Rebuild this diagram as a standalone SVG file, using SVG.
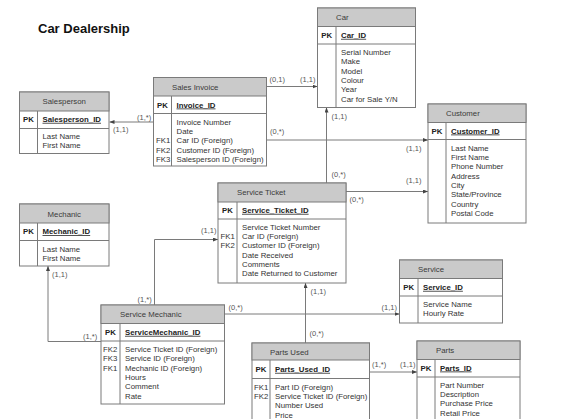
<svg xmlns="http://www.w3.org/2000/svg" width="580" height="419" viewBox="0 0 580 419">
<style>
.box{fill:#fff;stroke:#7a7a7a;stroke-width:1}
.hdr{fill:#cacaca;stroke:#7a7a7a;stroke-width:1}
.ln{stroke:#7a7a7a;stroke-width:1}
text{font-family:"Liberation Sans",Arial,sans-serif;font-size:7.8px;fill:#333}
.h{fill:#3a3a3a}
.pk{font-weight:bold;fill:#222}
.key{font-weight:bold;fill:#222;text-decoration:underline}
.fk{fill:#333}
.lbl{font-size:7.5px;fill:#555}
.title{font-size:13px;font-weight:bold;fill:#111}
.conn{fill:none;stroke:#7a7a7a;stroke-width:1}
</style>
<defs>
<marker id="arr" markerUnits="userSpaceOnUse" markerWidth="5" markerHeight="4" refX="5" refY="2" orient="auto">
<path d="M0,0 L5,2 L0,4 z" fill="#444"/>
</marker>
</defs>
<rect width="580" height="419" fill="#fff"/>
<text class="title" x="38" y="32.5">Car Dealership</text>

<g id="connectors">
<path class="conn" d="M153.5,122 H109.5" marker-end="url(#arr)"/>
<path class="conn" d="M266.5,86.5 H317.5" marker-end="url(#arr)"/>
<path class="conn" d="M266.5,140 H428" marker-end="url(#arr)"/>
<path class="conn" d="M326.5,183 V107.5" marker-end="url(#arr)"/>
<path class="conn" d="M346,191.5 H428" marker-end="url(#arr)"/>
<path class="conn" d="M154.5,305 V239.5 H218" marker-end="url(#arr)"/>
<path class="conn" d="M101,341.5 H48 V266" marker-end="url(#arr)"/>
<path class="conn" d="M224.5,314 H399.5" marker-end="url(#arr)"/>
<path class="conn" d="M305.5,343 V283" marker-end="url(#arr)"/>
<path class="conn" d="M369.5,372 H417" marker-end="url(#arr)"/>
<text class="lbl" x="137" y="119.6">(1,*)</text>
<text class="lbl" x="113" y="132">(1,1)</text>
<text class="lbl" x="269.5" y="81.8">(0,1)</text>
<text class="lbl" x="300" y="81.8">(1,1)</text>
<text class="lbl" x="270" y="133.8">(0,*)</text>
<text class="lbl" x="406" y="151">(1,1)</text>
<text class="lbl" x="331.5" y="118.8">(1,1)</text>
<text class="lbl" x="331.5" y="176.6">(0,*)</text>
<text class="lbl" x="349.5" y="201.6">(0,*)</text>
<text class="lbl" x="406" y="182.8">(1,1)</text>
<text class="lbl" x="201" y="232.8">(1,1)</text>
<text class="lbl" x="137.5" y="301.6">(1,*)</text>
<text class="lbl" x="52" y="276.8">(1,1)</text>
<text class="lbl" x="83" y="339">(1,*)</text>
<text class="lbl" x="228.5" y="309.5">(0,*)</text>
<text class="lbl" x="381.5" y="309.5">(1,1)</text>
<text class="lbl" x="310.5" y="294">(1,1)</text>
<text class="lbl" x="309.5" y="336">(0,*)</text>
<text class="lbl" x="372" y="366.6">(1,*)</text>
<text class="lbl" x="400" y="366.6">(1,1)</text>
</g>

<g id="salesperson">
<rect class="box" x="19.5" y="92" width="89.5" height="61.5"/>
<rect class="hdr" x="19.5" y="92" width="89.5" height="19"/>
<line class="ln" x1="19.5" y1="128.5" x2="109" y2="128.5"/>
<line class="ln" x1="37.5" y1="111" x2="37.5" y2="153.5"/>
<text class="h" x="64.25" y="104.3" text-anchor="middle">Salesperson</text>
<text class="pk" x="28.5" y="121.8" text-anchor="middle">PK</text>
<text class="key" x="42.5" y="121.8">Salesperson_ID</text>
<text x="42.5" y="138.8">Last Name</text>
<text x="42.5" y="148.1">First Name</text>
</g>

<g id="sales-invoice">
<rect class="box" x="153.5" y="77.5" width="113" height="88.5"/>
<rect class="hdr" x="153.5" y="77.5" width="113" height="18.5"/>
<line class="ln" x1="153.5" y1="113.5" x2="266.5" y2="113.5"/>
<line class="ln" x1="171.5" y1="96" x2="171.5" y2="166"/>
<text class="h" x="172" y="89.8">Sales Invoice</text>
<text class="pk" x="162.5" y="107.5" text-anchor="middle">PK</text>
<text class="key" x="176.5" y="107.5">Invoice_ID</text>
<text x="176.5" y="124.8">Invoice Number</text>
<text x="176.5" y="134.1">Date</text>
<text x="176.5" y="143.4">Car ID (Foreign)</text>
<text x="176.5" y="152.7">Customer ID (Foreign)</text>
<text x="176.5" y="162">Salesperson ID (Foreign)</text>
<text class="fk" x="156" y="143.4">FK1</text>
<text class="fk" x="156" y="152.7">FK2</text>
<text class="fk" x="156" y="162">FK3</text>
</g>

<g id="car">
<rect class="box" x="317.5" y="8" width="98" height="99.5"/>
<rect class="hdr" x="317.5" y="8" width="98" height="18.5"/>
<line class="ln" x1="317.5" y1="44" x2="415.5" y2="44"/>
<line class="ln" x1="336" y1="26.5" x2="336" y2="107.5"/>
<text class="h" x="336" y="20.1">Car</text>
<text class="pk" x="326.75" y="37.8" text-anchor="middle">PK</text>
<text class="key" x="341" y="37.8">Car_ID</text>
<text x="341" y="55.1">Serial Number</text>
<text x="341" y="64.4">Make</text>
<text x="341" y="73.7">Model</text>
<text x="341" y="83">Colour</text>
<text x="341" y="92.3">Year</text>
<text x="341" y="101.6">Car for Sale Y/N</text>
</g>

<g id="customer">
<rect class="box" x="428" y="104" width="98" height="119"/>
<rect class="hdr" x="428" y="104" width="98" height="18.5"/>
<line class="ln" x1="428" y1="139.5" x2="526" y2="139.5"/>
<line class="ln" x1="446" y1="122.5" x2="446" y2="223"/>
<text class="h" x="446" y="116.1">Customer</text>
<text class="pk" x="437" y="133.5" text-anchor="middle">PK</text>
<text class="key" x="451" y="133.5">Customer_ID</text>
<text x="451" y="150.8">Last Name</text>
<text x="451" y="160.1">First Name</text>
<text x="451" y="169.4">Phone Number</text>
<text x="451" y="178.7">Address</text>
<text x="451" y="188">City</text>
<text x="451" y="197.3">State/Province</text>
<text x="451" y="206.6">Country</text>
<text x="451" y="215.9">Postal Code</text>
</g>

<g id="service-ticket">
<rect class="box" x="218" y="183" width="128" height="100"/>
<rect class="hdr" x="218" y="183" width="128" height="19"/>
<line class="ln" x1="218" y1="219" x2="346" y2="219"/>
<line class="ln" x1="237" y1="202" x2="237" y2="283"/>
<text class="h" x="237" y="195.1">Service Ticket</text>
<text class="pk" x="227.5" y="212.8" text-anchor="middle">PK</text>
<text class="key" x="242" y="212.8">Service_Ticket_ID</text>
<text x="242" y="229.8">Service Ticket Number</text>
<text x="242" y="239.1">Car ID (Foreign)</text>
<text x="242" y="248.4">Customer ID (Foreign)</text>
<text x="242" y="257.7">Date Received</text>
<text x="242" y="267">Comments</text>
<text x="242" y="276.3">Date Returned to Customer</text>
<text class="fk" x="220.5" y="239.1">FK1</text>
<text class="fk" x="220.5" y="248.4">FK2</text>
</g>

<g id="service">
<rect class="box" x="399.5" y="260" width="103" height="63"/>
<rect class="hdr" x="399.5" y="260" width="103" height="18.5"/>
<line class="ln" x1="399.5" y1="296" x2="502.5" y2="296"/>
<line class="ln" x1="418" y1="278.5" x2="418" y2="323"/>
<text class="h" x="418" y="272.1">Service</text>
<text class="pk" x="408.75" y="289.8" text-anchor="middle">PK</text>
<text class="key" x="423" y="289.8">Service_ID</text>
<text x="423" y="307.1">Service Name</text>
<text x="423" y="316.4">Hourly Rate</text>
</g>

<g id="mechanic">
<rect class="box" x="19.5" y="204" width="89.5" height="62"/>
<rect class="hdr" x="19.5" y="204" width="89.5" height="19"/>
<line class="ln" x1="19.5" y1="240.5" x2="109" y2="240.5"/>
<line class="ln" x1="37.5" y1="223" x2="37.5" y2="266"/>
<text class="h" x="64.25" y="216.8" text-anchor="middle">Mechanic</text>
<text class="pk" x="28.5" y="234.1" text-anchor="middle">PK</text>
<text class="key" x="42.5" y="234.1">Mechanic_ID</text>
<text x="42.5" y="251.8">Last Name</text>
<text x="42.5" y="261.1">First Name</text>
</g>

<g id="service-mechanic">
<rect class="box" x="101" y="305" width="123.5" height="99"/>
<rect class="hdr" x="101" y="305" width="123.5" height="18.5"/>
<line class="ln" x1="101" y1="341" x2="224.5" y2="341"/>
<line class="ln" x1="120" y1="323.5" x2="120" y2="404"/>
<text class="h" x="120" y="317.1">Service Mechanic</text>
<text class="pk" x="110.5" y="334.8" text-anchor="middle">PK</text>
<text class="key" x="125" y="334.8">ServiceMechanic_ID</text>
<text x="125" y="352.1">Service Ticket ID (Foreign)</text>
<text x="125" y="361.4">Service ID (Foreign)</text>
<text x="125" y="370.7">Mechanic ID (Foreign)</text>
<text x="125" y="380">Hours</text>
<text x="125" y="389.3">Comment</text>
<text x="125" y="398.6">Rate</text>
<text class="fk" x="103" y="352.1">FK2</text>
<text class="fk" x="103" y="361.4">FK3</text>
<text class="fk" x="103" y="370.7">FK1</text>
</g>

<g id="parts-used">
<rect class="box" x="252" y="343" width="117.5" height="90"/>
<rect class="hdr" x="252" y="343" width="117.5" height="17"/>
<line class="ln" x1="252" y1="378.5" x2="369.5" y2="378.5"/>
<line class="ln" x1="270" y1="360" x2="270" y2="433"/>
<text class="h" x="270" y="354.8">Parts Used</text>
<text class="pk" x="261" y="371.8" text-anchor="middle">PK</text>
<text class="key" x="275" y="371.8">Parts_Used_ID</text>
<text x="275" y="389.8">Part ID (Foreign)</text>
<text x="275" y="399.1">Service Ticket ID (Foreign)</text>
<text x="275" y="408.4">Number Used</text>
<text x="275" y="417.7">Price</text>
<text class="fk" x="254" y="389.8">FK1</text>
<text class="fk" x="254" y="399.1">FK2</text>
</g>

<g id="parts">
<rect class="box" x="417" y="341" width="103" height="92"/>
<rect class="hdr" x="417" y="341" width="103" height="18.5"/>
<line class="ln" x1="417" y1="377" x2="520" y2="377"/>
<line class="ln" x1="435" y1="359.5" x2="435" y2="433"/>
<text class="h" x="436" y="352.8">Parts</text>
<text class="pk" x="426" y="370.5" text-anchor="middle">PK</text>
<text class="key" x="440" y="370.5">Parts_ID</text>
<text x="440" y="387.8">Part Number</text>
<text x="440" y="397.1">Description</text>
<text x="440" y="406.4">Purchase Price</text>
<text x="440" y="415.7">Retail Price</text>
</g>
</svg>
